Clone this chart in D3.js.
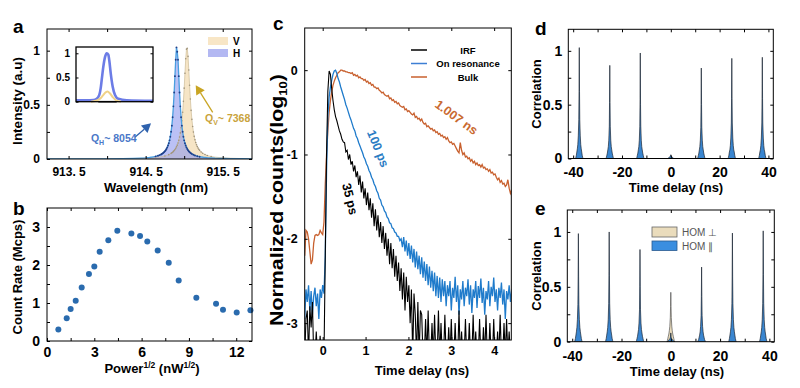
<!DOCTYPE html>
<html><head><meta charset="utf-8">
<script src="https://cdn.jsdelivr.net/npm/d3@7"></script>
<style>body{margin:0;background:#fff;}</style>
</head><body>
<svg id="fig" width="800" height="388"></svg>
<script>
// ---------- Panel a: spectra ----------
const hWave = [913.22,913.5,913.8,914.0,914.2,914.35,914.45,914.5,914.55,914.6,914.63,914.66,914.68,
 914.70,914.71,914.72,914.73,914.74,914.75,914.76,914.77,914.78,914.79,914.80,914.81,914.82,914.83,914.84,914.85,914.86,914.87,914.88,914.89,914.90,
 914.91,914.92,914.93,914.94,914.95,914.96,914.97,914.98,914.99,915.00,915.01,915.02,915.03,915.04,915.05,915.06,915.07,915.08,915.09,915.10,
 915.12,915.14,915.17,915.2,915.25,915.3,915.4,915.5,915.6,915.75,915.88];
const hInt = [0.001,0.001,0.0015,0.002,0.0037,0.006,0.009,0.011,0.014,0.02,0.024,0.030,0.036,
 0.042,0.047,0.052,0.057,0.064,0.072,0.081,0.093,0.107,0.124,0.145,0.172,0.206,0.251,0.308,0.385,0.486,0.614,0.765,0.916,1.03,
 0.99,0.916,0.765,0.614,0.486,0.385,0.308,0.251,0.206,0.172,0.145,0.124,0.107,0.093,0.081,0.072,0.064,0.057,0.052,0.047,
 0.039,0.033,0.026,0.021,0.016,0.012,0.0075,0.005,0.004,0.003,0.002];
const vWave = [913.22,913.6,914.0,914.3,914.5,914.6,914.7,914.75,914.8,
 914.83,914.84,914.85,914.86,914.87,914.88,914.89,914.90,914.91,914.92,914.93,914.94,914.95,914.96,914.97,914.98,914.99,
 915.00,915.01,915.02,915.03,915.04,915.05,915.06,915.07,915.08,915.09,915.10,915.11,915.12,915.13,915.14,915.15,915.16,915.17,915.18,915.19,915.20,
 915.22,915.24,915.27,915.3,915.35,915.4,915.5,915.6,915.75,915.88];
const vInt = [0.001,0.0015,0.002,0.004,0.008,0.012,0.020,0.028,0.040,
 0.052,0.057,0.063,0.070,0.078,0.087,0.099,0.112,0.128,0.148,0.172,0.203,0.241,0.289,0.352,0.431,0.532,
 0.654,0.792,0.925,1.014,1.023,0.947,0.821,0.681,0.554,0.449,0.366,0.300,0.249,0.209,0.178,0.152,0.132,0.115,0.101,0.090,0.080,
 0.064,0.053,0.041,0.032,0.023,0.017,0.011,0.007,0.004,0.003];
const aXTicks = [913.5,914,914.5,915,915.5];
const aXLabelVals = [913.5,914.5,915.5];
const aXLabels = ["913. 5","914. 5","915. 5"];
const aYTicks = [0,0.25,0.5,0.75,1];
const aYLabelVals = [0,0.5,1];
const aYLabels = ["0","0.5","1"];
// inset
const insetBluePos = [0,10.7,17.3,20.7,23.3,24.7,25.7,27.3,29,30.7,32.3,33.3,34.7,36.7,39,42.3,50.7,77];
const insetBlue = [0.03,0.03,0.035,0.06,0.14,0.28,0.45,0.72,0.92,1.0,0.97,0.85,0.59,0.31,0.14,0.06,0.03,0.02];
const insetYellowPos = [15,20,24,27,30,31.5,34,37,40,45];
const insetYellow = [0,0.02,0.06,0.13,0.2,0.21,0.17,0.09,0.03,0];
const insetBlackPos = [22.3,40.7];
const insetBlack = [0,0];

// ---------- Panel b: count rate ----------
const bPower = [0.72,1.25,1.5,1.82,2.2,2.66,3.0,3.34,3.89,4.46,5.35,5.9,6.36,7.02,7.72,8.35,9.47,10.72,11.16,12.03,12.9];
const bRate  = [0.30,0.60,0.84,1.06,1.41,1.76,1.96,2.35,2.65,2.90,2.83,2.76,2.62,2.38,2.06,1.59,1.14,0.98,0.82,0.75,0.81];

// ---------- Panel c: lifetimes (log10), sampled from -0.42 ns every 0.03 ns ----------
const cStart = -0.42, cStep = 0.03;
const irfLog = [-3.4,-2.95,-2.85,-3.4,-2.8,-3.05,-2.75,-3.4,-3.4,-3.1,-3.4,-3.4,-3.15,-3.4,-3.4,-3.4,
 -2.2,-1.0,-0.25,-0.01,-0.05,-0.22,-0.36,-0.47,-0.55,-0.60,-0.66,-0.72,-0.76,-0.82,-0.85,
 -0.86,-0.97,-0.95,-1.06,-1.0,-1.12,-1.08,-1.2,-1.13,-1.27,-1.2,-1.36,-1.25,-1.45,-1.32,-1.52,-1.4,-1.6,-1.45,-1.66,
 -1.52,-1.75,-1.58,-1.85,-1.65,-1.9,-1.72,-1.98,-1.8,-2.05,-1.85,-2.12,-1.93,-2.2,-2.0,-2.3,-2.05,-2.35,-2.12,-2.45,
 -2.2,-2.5,-2.28,-2.62,-2.35,-2.72,-2.4,-2.85,-2.45,-2.75,-2.55,-3.0,-2.6,-3.4,-2.65,-2.9,-3.4,-2.75,-3.4,-2.85,
 -2.9,-3.4,-3.4,-2.95,-3.4,-2.85,-3.4,-3.4,-3.0,-3.4,-2.9,-3.4,-3.4,-2.85,-3.4,-3.0,-3.4,-3.4,-2.9,-3.4,
 -3.4,-3.05,-3.4,-2.95,-3.4,-3.4,-3.0,-3.4,-3.4,-2.85,-3.4,-3.1,-3.4,-3.4,-2.95,-3.4,-3.4,-3.0,-3.4,-3.4,
 -2.9,-3.4,-3.1,-3.4,-3.4,-2.95,-3.4,-3.4,-3.05,-3.4,-2.9,-3.4,-3.4,-3.0,-3.4,-3.4,-2.95,-3.4,-3.4,-3.1,
 -3.4,-2.9,-3.4,-3.4,-3.0,-3.4,-2.95,-3.4,-3.1,-3.4,-3.4];
const resLog = [-2.95,-2.6,-2.75,-2.55,-2.85,-2.62,-2.9,-2.68,-2.58,-2.8,-2.65,-2.95,-2.6,-2.7,-2.55,-2.65,
 -2.2,-1.2,-0.55,-0.32,-0.2,-0.12,-0.05,-0.01,0.0,-0.04,-0.1,-0.14,-0.2,-0.25,-0.3,
 -0.35,-0.41,-0.45,-0.5,-0.55,-0.59,-0.64,-0.69,-0.72,-0.78,-0.81,-0.86,-0.9,-0.94,-0.98,-1.03,-1.06,-1.11,-1.14,-1.19,
 -1.22,-1.27,-1.3,-1.35,-1.38,-1.43,-1.46,-1.52,-1.54,-1.6,-1.62,-1.67,-1.69,-1.74,-1.76,-1.81,-1.82,-1.87,-1.88,-1.92,
 -1.93,-1.97,-1.97,-2.02,-2.0,-2.1,-1.98,-2.15,-2.02,-2.2,-2.05,-2.24,-2.08,-2.28,-2.12,-2.34,-2.15,-2.36,-2.2,-2.42,
 -2.22,-2.46,-2.27,-2.5,-2.3,-2.55,-2.33,-2.58,-2.38,-2.62,-2.4,-2.68,-2.44,-2.7,-2.46,-2.75,-2.48,-2.68,-2.5,-2.8,
 -2.55,-2.68,-2.5,-2.85,-2.58,-2.7,-2.45,-2.75,-2.55,-2.9,-2.6,-2.72,-2.5,-2.8,-2.58,-2.68,-2.48,-2.78,-2.55,-2.88,
 -2.6,-2.7,-2.5,-2.82,-2.56,-2.7,-2.47,-2.76,-2.58,-2.9,-2.62,-2.72,-2.5,-2.8,-2.57,-2.68,-2.46,-2.75,-2.6,-2.85,
 -2.58,-2.7,-2.52,-2.78,-2.6,-2.95,-2.62,-2.72,-2.55,-2.75,-2.6];
const bulkLog = [-2.2,-1.9,-1.92,-2.0,-2.15,-2.3,-2.25,-2.05,-1.96,-1.95,-1.96,-1.95,-1.9,-1.93,-1.95,-1.8,
 -1.35,-1.0,-0.72,-0.5,-0.36,-0.26,-0.18,-0.13,-0.09,-0.06,-0.03,-0.02,0.0,0.0,-0.01,
 -0.01,-0.02,-0.02,-0.03,-0.03,-0.04,-0.03,-0.06,-0.05,-0.07,-0.06,-0.09,-0.08,-0.1,-0.1,-0.12,-0.11,-0.14,-0.13,-0.16,
 -0.15,-0.18,-0.17,-0.2,-0.2,-0.22,-0.21,-0.24,-0.25,-0.27,-0.26,-0.29,-0.3,-0.31,-0.3,-0.34,-0.33,-0.36,-0.35,-0.38,
 -0.37,-0.4,-0.39,-0.42,-0.43,-0.44,-0.43,-0.47,-0.46,-0.49,-0.48,-0.5,-0.52,-0.53,-0.51,-0.56,-0.55,-0.58,-0.57,-0.6,
 -0.58,-0.62,-0.64,-0.63,-0.67,-0.66,-0.68,-0.7,-0.69,-0.72,-0.71,-0.74,-0.73,-0.76,-0.75,-0.78,-0.77,-0.8,-0.79,-0.82,
 -0.8,-0.84,-0.86,-0.85,-0.88,-0.87,-0.9,-0.93,-0.96,-0.98,-0.86,-0.95,-1.0,-0.98,-1.03,-1.02,-1.05,-1.04,-1.08,-1.06,
 -1.1,-1.08,-1.12,-1.1,-1.13,-1.12,-1.15,-1.12,-1.16,-1.15,-1.18,-1.17,-1.2,-1.18,-1.22,-1.21,-1.24,-1.23,-1.27,-1.3,
 -1.28,-1.33,-1.31,-1.35,-1.34,-1.38,-1.36,-1.3,-1.4,-1.46,-1.42];
const cSeriesNames = ["IRF","On resonance","Bulk"];

// ---------- Panels d, e: correlation peaks ----------
const corrOffsets = [-1.6,-1.4,-1.2,-1.0,-0.8,-0.6,-0.4,-0.2,-0.1,0,0.1,0.2,0.4,0.6,0.8,1.0,1.2,1.4,1.6];
const dCenters = [-37.5,-25,-12.5,0,12.5,25,37.5];
const dValues = [
 [0,0.01,0.03,0.06,0.09,0.13,0.21,0.36,0.62,1.03,0.62,0.36,0.21,0.13,0.09,0.06,0.03,0.01,0],
 [0,0.01,0.03,0.05,0.08,0.11,0.17,0.30,0.52,0.865,0.52,0.30,0.17,0.11,0.08,0.05,0.03,0.01,0],
 [0,0.01,0.03,0.05,0.08,0.11,0.17,0.30,0.55,0.98,0.5,0.30,0.17,0.11,0.08,0.05,0.03,0.01,0],
 [0,0,0,0.005,0.01,0.012,0.015,0.02,0.03,0.035,0.03,0.02,0.015,0.012,0.01,0.005,0,0,0],
 [0,0.01,0.03,0.05,0.08,0.11,0.17,0.29,0.5,0.84,0.5,0.29,0.17,0.11,0.08,0.05,0.03,0.01,0],
 [0,0.01,0.03,0.06,0.08,0.12,0.19,0.33,0.56,0.93,0.56,0.33,0.19,0.12,0.08,0.06,0.03,0.01,0],
 [0,0.01,0.03,0.06,0.08,0.12,0.19,0.33,0.56,0.94,0.56,0.33,0.19,0.12,0.08,0.06,0.03,0.01,0]];
const eCenters = [-37.5,-25,-12.5,0,12.5,25,37.5];
const eParValues = [
 [0,0.01,0.03,0.06,0.09,0.13,0.2,0.34,0.59,0.985,0.59,0.34,0.2,0.13,0.09,0.06,0.03,0.01,0],
 [0,0.01,0.03,0.06,0.09,0.13,0.2,0.35,0.6,1.0,0.6,0.35,0.2,0.13,0.09,0.06,0.03,0.01,0],
 [0,0.01,0.03,0.05,0.08,0.11,0.17,0.29,0.5,0.84,0.5,0.29,0.17,0.11,0.08,0.05,0.03,0.01,0],
 [0,0,0.005,0.01,0.015,0.02,0.025,0.035,0.05,0.08,0.05,0.035,0.025,0.02,0.015,0.01,0.005,0,0],
 [0,0.01,0.02,0.04,0.06,0.09,0.14,0.24,0.41,0.68,0.41,0.24,0.14,0.09,0.06,0.04,0.02,0.01,0],
 [0,0.01,0.03,0.06,0.09,0.13,0.2,0.35,0.59,0.99,0.59,0.35,0.2,0.13,0.09,0.06,0.03,0.01,0],
 [0,0.01,0.03,0.06,0.09,0.13,0.2,0.35,0.61,1.01,0.61,0.35,0.2,0.13,0.09,0.06,0.03,0.01,0]];
const ePerpCenters = [0];
const ePerpValues = [[0,0.01,0.03,0.05,0.07,0.1,0.14,0.22,0.32,0.45,0.32,0.22,0.14,0.1,0.07,0.05,0.03,0.01,0]];
const corrXTicks = [-40,-30,-20,-10,0,10,20,30,40];
const corrXLabelVals = [-40,-20,0,20,40];
const corrXLabels = ["-40","-20","0","20","40"];

// ================= drawing =================
const FONT = '"Liberation Sans", Arial, Helvetica, sans-serif';
const svg = d3.select("#fig");
const defs = svg.append("defs");
let clipN = 0;
function clipFor(x, y) {
  const id = "clip" + (clipN++);
  defs.append("clipPath").attr("id", id).append("rect")
    .attr("x", x.range()[0]).attr("y", y.range()[1])
    .attr("width", x.range()[1] - x.range()[0]).attr("height", y.range()[0] - y.range()[1]);
  return `url(#${id})`;
}
function near(a, b) { return Math.abs(a - b) < 1e-6; }
function frame(x, y, o) {
  const g = svg.append("g");
  const [x0, x1] = x.range(), [yb, yt] = y.range();
  const lab = (vals, labels) => d => { const i = vals.findIndex(v => near(v, d)); return i < 0 ? "" : labels[i]; };
  const ax = (axis, tr, fmt, pad) => {
    const a = g.append("g").attr("transform", tr)
      .call(axis.tickSize(-3).tickSizeOuter(0).tickPadding(pad).tickFormat(fmt));
    a.select(".domain").remove();
    a.selectAll("line").attr("stroke", "#000").attr("stroke-width", 1);
    a.selectAll("text").attr("font-family", FONT).attr("font-weight", "bold")
      .attr("font-size", o.fs).attr("fill", "#000");
  };
  ax(d3.axisBottom(x).tickValues(o.xt), `translate(0,${yb})`, lab(o.xl, o.xlab), o.xpad);
  ax(d3.axisTop(x).tickValues(o.xt), `translate(0,${yt})`, () => "", 0);
  ax(d3.axisLeft(y).tickValues(o.yt), `translate(${x0},0)`, lab(o.yl, o.ylab), o.ypad);
  ax(d3.axisRight(y).tickValues(o.yt), `translate(${x1},0)`, () => "", 0);
  g.append("rect").attr("x", x0).attr("y", yt).attr("width", x1 - x0).attr("height", yb - yt)
    .attr("fill", "none").attr("stroke", "#000").attr("stroke-width", 1);
}
function txt(x, y, s, o = {}) {
  const t = svg.append("text").attr("x", x).attr("y", y).attr("font-family", FONT)
    .attr("font-weight", o.fw || "bold").attr("font-size", o.fs || 13).attr("fill", o.fill || "#000")
    .attr("text-anchor", o.anchor || "middle");
  if (o.rot !== undefined) t.attr("transform", `rotate(${o.rot},${x},${y})`);
  if (s !== null) t.text(s);
  return t;
}
function panelLetter(x, y, s) { txt(x, y, s, { fs: 19, anchor: "start" }); }

// ---------- Panel a ----------
{
  const x = d3.scaleLinear().domain([913.22, 915.88]).range([47, 252]);
  const y = d3.scaleLinear().domain([0, 1.2]).range([159, 29]);
  const cp = clipFor(x, y);
  const g = svg.append("g").attr("clip-path", cp);
  const vData = vWave.map((w, i) => [w, vInt[i]]);
  const hData = hWave.map((w, i) => [w, hInt[i]]);
  const area = d3.area().x(d => x(d[0])).y0(y(0)).y1(d => y(d[1]));
  const line = d3.line().x(d => x(d[0])).y(d => y(d[1]));
  g.append("path").datum(vData).attr("d", area).attr("fill", "#f4dfb8").attr("opacity", 0.8);
  g.append("path").datum(hData).attr("d", area).attr("fill", "#8e98ee").attr("opacity", 0.6);
  g.append("path").datum(vData).attr("d", line).attr("fill", "none").attr("stroke", "#cdbb96").attr("stroke-width", 0.7);
  g.selectAll(".vd").data(vData.filter(d => d[1] > 0.02)).enter().append("circle")
    .attr("cx", d => x(d[0])).attr("cy", d => y(d[1])).attr("r", 0.8).attr("fill", "#a0947c");
  g.append("path").datum(hData).attr("d", line).attr("fill", "none").attr("stroke", "#4a9ee0").attr("stroke-width", 1.3);
  g.selectAll(".hd").data(hData.filter(d => d[1] > 0.02)).enter().append("circle")
    .attr("cx", d => x(d[0])).attr("cy", d => y(d[1])).attr("r", 0.95).attr("fill", "#213f88");

  // inset
  const xi = d3.scaleLinear().domain([0, 77]).range([76, 153]);
  const yi = d3.scaleLinear().domain([0, 1.13]).range([101.7, 47]);
  const li = d3.line().x(d => xi(d[0])).y(d => yi(d[1])).curve(d3.curveMonotoneX);
  svg.append("rect").attr("x", 76).attr("y", 47).attr("width", 77).attr("height", 54.7).attr("fill", "#fff");
  svg.append("path").datum(insetBluePos.map((p, i) => [p, insetBlue[i]])).attr("d", li)
    .attr("fill", "none").attr("stroke", "#6c7ce6").attr("stroke-width", 2.6);
  svg.append("path").datum(insetBlackPos.map((p, i) => [p, insetBlack[i]])).attr("d", li)
    .attr("fill", "none").attr("stroke", "#111").attr("stroke-width", 1.6);
  svg.append("path").datum(insetYellowPos.map((p, i) => [p, insetYellow[i]])).attr("d", li)
    .attr("fill", "none").attr("stroke", "#f0d288").attr("stroke-width", 2);
  const ig = svg.append("g");
  ig.append("g").attr("transform", "translate(76,0)").call(d3.axisLeft(yi).tickValues([0, 0.5, 1]).tickSize(-2.5).tickSizeOuter(0).tickPadding(6).tickFormat(d3.format("")));
  ig.append("g").attr("transform", "translate(153,0)").call(d3.axisRight(yi).tickValues([0, 0.5, 1]).tickSize(-2.5).tickSizeOuter(0).tickFormat(""));
  ig.selectAll(".domain").remove();
  ig.selectAll("line").attr("stroke", "#000");
  ig.selectAll("text").attr("font-family", FONT).attr("font-weight", "bold").attr("font-size", 10).attr("fill", "#000");
  ig.append("rect").attr("x", 76).attr("y", 47).attr("width", 77).attr("height", 54.7)
    .attr("fill", "none").attr("stroke", "#000").attr("stroke-width", 1.3);

  // legend
  svg.append("rect").attr("x", 208).attr("y", 37).attr("width", 20).attr("height", 8).attr("fill", "#f8e6c6");
  svg.append("rect").attr("x", 208).attr("y", 49).attr("width", 20).attr("height", 8).attr("fill", "#b3b8f2");
  txt(233, 45, "V", { fs: 10, anchor: "start" });
  txt(233, 57, "H", { fs: 10, anchor: "start" });

  // annotations
  const arrow = (x1, y1, x2, y2, col) => {
    const ang = Math.atan2(y2 - y1, x2 - x1), L = 9, W = 5;
    const bx = x2 - L * Math.cos(ang), by = y2 - L * Math.sin(ang);
    svg.append("line").attr("x1", x1).attr("y1", y1).attr("x2", bx).attr("y2", by).attr("stroke", col).attr("stroke-width", 1.3);
    svg.append("path").attr("d", `M${x2},${y2}L${bx + W * Math.sin(ang)},${by - W * Math.cos(ang)}L${bx - W * Math.sin(ang)},${by + W * Math.cos(ang)}Z`).attr("fill", col);
  };
  arrow(x(914.36), y(0.20), x(914.57), y(0.33), "#2f62ad");
  arrow(x(915.37), y(0.43), x(915.15), y(0.68), "#c9a524");
  const qh = txt(x(913.79), y(0.155), null, { fs: 10.5, anchor: "start", fill: "#4a78c8" });
  qh.append("tspan").text("Q");
  qh.append("tspan").attr("font-size", 7).attr("dy", 3).text("H");
  qh.append("tspan").attr("dy", -3).text("~ 8054");
  const qv = txt(x(915.27), y(0.34), null, { fs: 10.5, anchor: "start", fill: "#c9a33c" });
  qv.append("tspan").text("Q");
  qv.append("tspan").attr("font-size", 7).attr("dy", 3).text("V");
  qv.append("tspan").attr("dy", -3).text("~ 7368");

  frame(x, y, { xt: aXTicks, xl: aXLabelVals, xlab: aXLabels, yt: aYTicks, yl: aYLabelVals, ylab: aYLabels, fs: 12, xpad: 8, ypad: 7 });
  txt(156, 192, "Wavelength (nm)", { fs: 13 });
  txt(22, 101, "Intensity (a.u)", { fs: 13.5, rot: -90 });
  panelLetter(13, 33, "a");
}

// ---------- Panel b ----------
{
  const x = d3.scaleLinear().domain([0, 13]).range([47, 252]);
  const y = d3.scaleLinear().domain([0, 3.5]).range([341, 208]);
  svg.append("g").selectAll("circle").data(bPower.map((p, i) => [p, bRate[i]])).enter().append("circle")
    .attr("cx", d => x(d[0])).attr("cy", d => y(d[1])).attr("r", 3).attr("fill", "#2a6bae");
  frame(x, y, { xt: [0, 1.5, 3, 4.5, 6, 7.5, 9, 10.5, 12], xl: [0, 3, 6, 9, 12], xlab: ["0", "3", "6", "9", "12"],
    yt: [0, 0.5, 1, 1.5, 2, 2.5, 3], yl: [0, 1, 2, 3], ylab: ["0", "1", "2", "3"], fs: 14, xpad: 6, ypad: 7 });
  const t = txt(152, 373, null, { fs: 13 });
  t.append("tspan").text("Power");
  t.append("tspan").attr("font-size", 8.5).attr("dy", -5).text("1/2");
  t.append("tspan").attr("dy", 5).text(" (nW");
  t.append("tspan").attr("font-size", 8.5).attr("dy", -5).text("1/2");
  t.append("tspan").attr("dy", 5).text(")");
  txt(22, 277, "Count Rate (Mcps)", { fs: 13, rot: -90 });
  panelLetter(13, 215, "b");
}

// ---------- Panel c ----------
{
  const x = d3.scaleLinear().domain([-0.42, 4.4]).range([304.7, 511.3]);
  const y = d3.scaleLinear().domain([-3.2, 0.5]).range([340, 28]);
  const cp = clipFor(x, y);
  const g = svg.append("g").attr("clip-path", cp);
  const line = d3.line().x((d, i) => x(cStart + i * cStep)).y(d => y(d));
  g.append("path").datum(bulkLog).attr("d", line).attr("fill", "none").attr("stroke", "#c8602e").attr("stroke-width", 1.3);
  g.append("path").datum(resLog).attr("d", line).attr("fill", "none").attr("stroke", "#1f7bcb").attr("stroke-width", 1.3);
  g.append("path").datum(irfLog).attr("d", line).attr("fill", "none").attr("stroke", "#000").attr("stroke-width", 1.1);
  // legend
  const legCols = ["#000", "#3d7fd4", "#c8602e"];
  cSeriesNames.forEach((n, i) => {
    const yy = 50 + i * 13.5;
    svg.append("line").attr("x1", 411).attr("x2", 427).attr("y1", yy).attr("y2", yy).attr("stroke", legCols[i]).attr("stroke-width", 1.5);
    txt(468, yy + 3.5, n, { fs: 9.5 });
  });
  txt(x(3.06), y(-0.60), "1.007 ns", { fs: 12.5, fill: "#c96a30", rot: 36 });
  txt(x(1.2), y(-0.95), "100 ps", { fs: 12.5, fill: "#2a7cc4", rot: 68 });
  txt(x(0.54), y(-1.54), "35 ps", { fs: 12.5, fill: "#000", rot: 76 });
  frame(x, y, { xt: [0, 1, 2, 3, 4], xl: [0, 1, 2, 3, 4], xlab: ["0", "1", "2", "3", "4"],
    yt: [-3, -2, -1, 0], yl: [-3, -2, -1, 0], ylab: ["-3", "-2", "-1", "0"], fs: 12.5, xpad: 6, ypad: 7 });
  txt(422, 375, "Time delay (ns)", { fs: 13 });
  const yl = txt(283, 200, null, { fs: 18, rot: -90 })
    .attr("textLength", 252).attr("lengthAdjust", "spacingAndGlyphs");
  yl.append("tspan").text("Normalized counts(log");
  yl.append("tspan").attr("font-size", 11).attr("dy", 4).text("10");
  yl.append("tspan").attr("dy", -4).text(")");
  panelLetter(273, 30, "c");
}

// ---------- Panels d, e ----------
function peaks(g, x, y, centers, values, fill, stroke) {
  const area = d3.area().x(d => x(d[0])).y0(y(0)).y1(d => y(d[1]));
  centers.forEach((c, k) => {
    const data = corrOffsets.map((o, i) => [c + o, values[k][i]]);
    g.append("path").datum(data).attr("d", area).attr("fill", fill).attr("stroke", stroke).attr("stroke-width", 0.7);
  });
}
{
  const x = d3.scaleLinear().domain([-42, 42]).range([568.3, 773.3]);
  const y = d3.scaleLinear().domain([0, 1.2]).range([158.5, 29.3]);
  const g = svg.append("g").attr("clip-path", clipFor(x, y));
  peaks(g, x, y, dCenters, dValues, "#3a86d0", "#1c2633");
  frame(x, y, { xt: corrXTicks, xl: corrXLabelVals, xlab: corrXLabels,
    yt: [0, 0.25, 0.5, 0.75, 1], yl: [0, 0.5, 1], ylab: ["0", "0.5", "1"], fs: 14, xpad: 9, ypad: 6 });
  txt(676, 192, "Time delay (ns)", { fs: 13 });
  txt(541, 94, "Correlation", { fs: 13, rot: -90 });
  panelLetter(535, 35, "d");
}
{
  const x = d3.scaleLinear().domain([-42, 42]).range([567.3, 774.3]);
  const y = d3.scaleLinear().domain([0, 1.2]).range([341.7, 210]);
  const g = svg.append("g").attr("clip-path", clipFor(x, y));
  peaks(g, x, y, ePerpCenters, ePerpValues, "#eadcbc", "#555");
  peaks(g, x, y, eCenters, eParValues, "#3a86d0", "#1c2633");
  svg.append("rect").attr("x", 652).attr("y", 227).attr("width", 25).attr("height", 10).attr("fill", "#eadcbc").attr("stroke", "#666").attr("stroke-width", 0.8);
  svg.append("rect").attr("x", 652).attr("y", 241).attr("width", 25).attr("height", 9.5).attr("fill", "#3a8ee0").attr("stroke", "#2a5a90").attr("stroke-width", 0.8);
  txt(682, 236, "HOM \u22A5", { fs: 10, fw: "normal", anchor: "start", fill: "#555" });
  txt(682, 249.5, "HOM \u2225", { fs: 10, fw: "normal", anchor: "start", fill: "#555" });
  frame(x, y, { xt: corrXTicks, xl: corrXLabelVals, xlab: corrXLabels,
    yt: [0, 0.25, 0.5, 0.75, 1], yl: [0, 0.5, 1], ylab: ["0", "0.5", "1"], fs: 14, xpad: 9, ypad: 6 });
  txt(677, 376, "Time delay (ns)", { fs: 13 });
  txt(541, 276, "Correlation", { fs: 13, rot: -90 });
  panelLetter(535, 215, "e");
}
</script>
</body></html>
